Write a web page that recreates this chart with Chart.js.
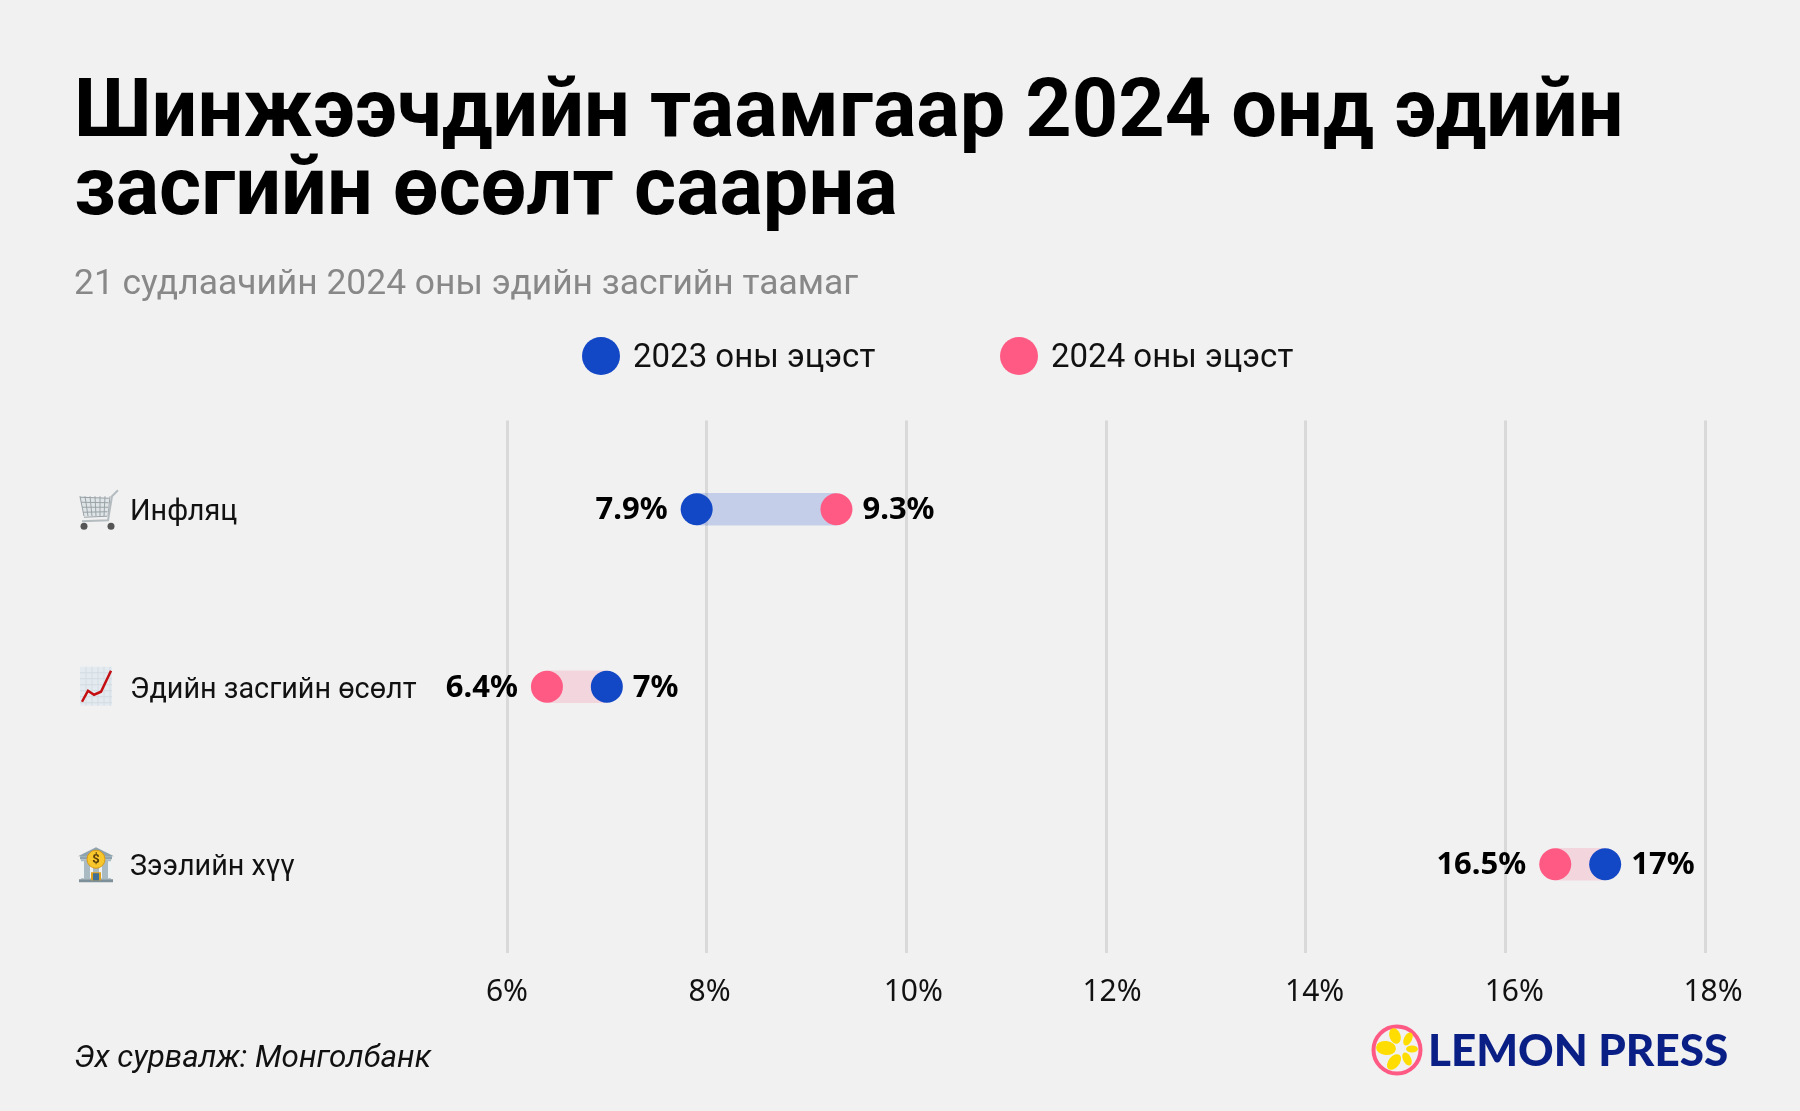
<!DOCTYPE html>
<html><head><meta charset="utf-8">
<style>html,body{margin:0;padding:0;background:#f1f1f1}canvas{display:block}#w{width:1800px;height:1111px}</style>
<script src="https://cdn.jsdelivr.net/npm/chart.js@4"></script>
</head><body><div id="w"><canvas id="c"></canvas></div>
<script>
const titleLines = ["Шинжээчдийн таамгаар 2024 онд эдийн", "засгийн өсөлт саарна"];
const subtitleText = "21 судлаачийн 2024 оны эдийн засгийн таамаг";
const sourceText = "Эх сурвалж: Монголбанк";
const logoText = "LEMON PRESS";
const categories = ["Инфляц", "Эдийн засгийн өсөлт", "Зээлийн хүү"];
const series2023 = [7.9, 7, 17];
const series2024 = [9.3, 6.4, 16.5];
const label2023 = "2023 оны эцэст";
const label2024 = "2024 оны эцэст";
const xTicks = [6, 8, 10, 12, 14, 16, 18];
const xTickShift = [0, 3, 7, 6, 9, 9, 8];

const BLUE = "#1247C6", PINK = "#FF5A84", BG = "#f1f1f1";
const ranges = series2023.map((v, i) => [Math.min(v, series2024[i]), Math.max(v, series2024[i])]);
const rangeColors = series2023.map((v, i) => v < series2024[i] ? "rgba(18,71,198,0.2)" : "rgba(255,90,132,0.18)");

function cart(c, x, y) {
  c.save(); c.translate(x, y); c.strokeStyle = "#9aa3a8"; c.lineWidth = 1;
  c.fillStyle = "#dfe4e6";
  c.beginPath(); c.moveTo(1, 6); c.lineTo(32, 8); c.lineTo(29, 26); c.lineTo(6, 26); c.closePath(); c.fill();
  for (let i = 0; i <= 6; i++) { c.beginPath(); c.moveTo(2 + i * 5, 6); c.lineTo(6 + i * 4, 26); c.stroke(); }
  for (let i = 0; i <= 4; i++) { c.beginPath(); c.moveTo(2 + i, 7 + i * 5); c.lineTo(31 - i * .5, 8 + i * 4.5); c.stroke(); }
  c.strokeStyle = "#b4bcc0"; c.lineWidth = 2;
  c.beginPath(); c.moveTo(40, 0); c.lineTo(34, 6); c.lineTo(30, 30); c.lineTo(4, 31); c.stroke();
  c.fillStyle = "#555";
  [[6, 36], [33, 36]].forEach(p => { c.beginPath(); c.arc(p[0], p[1], 3.5, 0, 7); c.fill(); });
  c.restore();
}
function graph(c, x, y) {
  c.save(); c.translate(x, y);
  c.fillStyle = "#e4ebf0"; c.fillRect(0, 0, 32, 39);
  c.strokeStyle = "#d3dce2"; c.lineWidth = 1;
  for (let i = 6; i < 39; i += 6) { c.beginPath(); c.moveTo(0, i); c.lineTo(32, i); c.stroke(); }
  for (let i = 6; i < 32; i += 6) { c.beginPath(); c.moveTo(i, 0); c.lineTo(i, 39); c.stroke(); }
  c.strokeStyle = "#c40e12"; c.lineWidth = 2.5;
  c.beginPath(); c.moveTo(2, 35); c.lineTo(8, 24); c.lineTo(14, 28); c.lineTo(21, 25); c.lineTo(31, 4); c.stroke();
  c.restore();
}
function bank(c, x, y) {
  c.save(); c.translate(x, y);
  c.fillStyle = "#8ea3ad";
  c.beginPath(); c.moveTo(18, 0); c.lineTo(36, 9); c.lineTo(0, 9); c.closePath(); c.fill();
  c.fillRect(2, 9, 32, 3);
  c.fillStyle = "#a9bac2"; c.fillRect(3, 12, 30, 20);
  c.fillStyle = "#eef2f3";
  [3, 12, 21, 30].forEach(p => c.fillRect(p, 14, 3, 17));
  c.fillStyle = "#7d9099"; c.fillRect(1, 32, 34, 3);
  c.fillStyle = "#e0a21b"; c.fillRect(13, 25, 10, 8);
  c.fillStyle = "#3f6f96"; c.fillRect(15, 26, 6, 7);
  c.fillStyle = "#f8c72c"; c.beginPath(); c.arc(18, 12, 9, 0, 7); c.fill();
  c.strokeStyle = "#d99a16"; c.lineWidth = 1; c.stroke();
  c.fillStyle = "#5a3d08"; c.font = "bold 13px Roboto"; c.textAlign = "center"; c.textBaseline = "middle";
  c.fillText("$", 18, 12.5);
  c.restore();
}

const decor = {
  id: "decor",
  afterUpdate(ch) {
    ch.scales.x.getLabelItems().forEach((it, i) => { it.options.translation[0] += xTickShift[i] || 0; });
    ch.scales.y.getLabelItems().forEach(it => { it.options.translation[0] += 56; });
  },
  afterDraw(ch) {
    const c = ch.ctx, xs = ch.scales.x, ys = ch.scales.y;
    c.save();
    // value labels
    c.font = "bold 31px 'Noto Sans'"; c.fillStyle = "#000"; c.textBaseline = "middle";
    categories.forEach((n, i) => {
      const y = ys.getPixelForValue(i), lo = ranges[i][0], hi = ranges[i][1];
      c.textAlign = "right"; c.fillText(lo + "%", xs.getPixelForValue(lo) - 29, y + 1);
      c.textAlign = "left"; c.fillText(hi + "%", xs.getPixelForValue(hi) + 26, y + 1);
    });
    // legend
    c.font = "33px Roboto"; c.textAlign = "left";
    [[601, BLUE, label2023], [1019, PINK, label2024]].forEach(l => {
      c.fillStyle = l[1]; c.beginPath(); c.arc(l[0], 356, 19, 0, 7); c.fill();
      c.fillStyle = "#111"; c.fillText(l[2], l[0] + 32, 359);
    });
    // icons
    cart(c, 78, ys.getPixelForValue(0) - 19);
    graph(c, 80, ys.getPixelForValue(1) - 20);
    bank(c, 78, ys.getPixelForValue(2) - 17);
    // source
    c.font = "italic 31.4px Roboto"; c.fillStyle = "#111"; c.textBaseline = "alphabetic";
    c.fillText(sourceText, 74, 1067);
    // logo
    c.fillStyle = BG; c.strokeStyle = PINK; c.lineWidth = 4;
    c.beginPath(); c.arc(1397, 1050, 23.5, 0, 7); c.fill(); c.stroke();
    c.fillStyle = "#FFDD00";
    [[1386, 1048, 10, 7, .1], [1395, 1036, 8, 5.5, 1.2], [1408, 1039, 7, 4, -1.1], [1412, 1049, 6, 3.5, 0], [1407, 1059, 7, 4, 1.1], [1394, 1062, 9, 5.5, -.9]]
      .forEach(e => { c.beginPath(); c.ellipse(e[0], e[1], e[2], e[3], e[4], 0, 7); c.fill(); });
    c.font = "900 44px Lato"; c.fillStyle = "#0A1F85";
    c.fillText(logoText, 1428, 1066);
    c.restore();
  }
};

Chart.defaults.animation = false;
new Chart(document.getElementById("c"), {
  data: {
    labels: categories,
    datasets: [
      { type: "line", label: label2023, data: series2023, showLine: false, pointRadius: 16, pointHoverRadius: 16, pointBackgroundColor: BLUE, pointBorderWidth: 0, backgroundColor: BLUE, order: 1 },
      { type: "line", label: label2024, data: series2024, showLine: false, pointRadius: 16, pointHoverRadius: 16, pointBackgroundColor: PINK, pointBorderWidth: 0, backgroundColor: PINK, order: 2 },
      { type: "bar", label: "range", data: ranges, backgroundColor: rangeColors, barThickness: 32, borderWidth: 0, order: 3 }
    ]
  },
  options: {
    indexAxis: "y", responsive: true, maintainAspectRatio: false, animation: false,
    layout: { padding: { left: 74, right: 95, top: 77, bottom: 0 } },
    plugins: {
      legend: { display: false }, tooltip: { enabled: false },
      title: { display: true, text: titleLines, align: "start", color: "#000", font: { family: "Roboto", weight: "bold", size: 81, lineHeight: 0.963 }, padding: { top: 0, bottom: 31 } },
      subtitle: { display: true, text: subtitleText, align: "start", color: "#888", font: { family: "Roboto", size: 35.4, lineHeight: 1.2 }, padding: { top: 0, bottom: 114 } }
    },
    scales: {
      x: {
        type: "linear", position: "bottom", min: 6, max: 18,
        afterBuildTicks: s => { s.ticks = xTicks.map(v => ({ value: v })); },
        grid: { color: "#d9d9d9", lineWidth: 3, drawTicks: false }, border: { display: false },
        afterFit: s => { s.height = 158; },
        ticks: { color: "#111", padding: 21, maxRotation: 0, autoSkip: false, font: { family: "'Noto Sans'", size: 30 }, callback: v => v + "%" }
      },
      y: {
        type: "category", position: "left", offset: true,
        grid: { display: false }, border: { display: false },
        afterFit: s => { s.width = 433; },
        ticks: { color: "#111", crossAlign: "far", padding: 0, labelOffset: 4, font: { family: "Roboto", size: 28.8 } }
      }
    }
  },
  plugins: [decor]
});
</script></body></html>
